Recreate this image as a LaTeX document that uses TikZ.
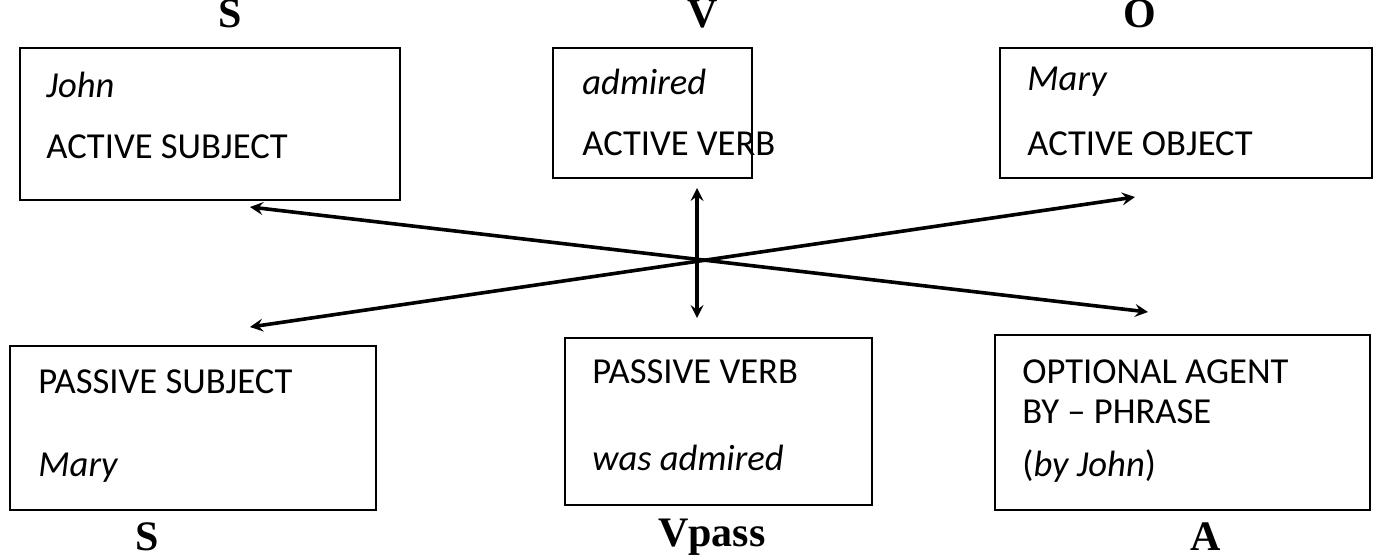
\documentclass[tikz,border=0pt]{standalone}
\usepackage{fontspec}
\setmainfont{Liberation Serif}
\newfontfamily\boxfont{Carlito}
\usetikzlibrary{positioning, arrows}
\tikzstyle{box}=[draw, line width=1.2pt]
\tikzstyle{txt}=[anchor=west, inner sep=0pt, font=\boxfont\fontsize{18.3}{22}\selectfont]
\tikzstyle{head}=[inner sep=0pt, font=\bfseries\fontsize{21}{24}\selectfont]
\tikzset{>=stealth}

\begin{document}
\begin{tikzpicture}[x=0.5pt, y=-0.5pt]
\useasboundingbox (0,0) rectangle (1395,559);
% the top boxes
\draw[box] (20,48) rectangle (400,200);
\draw[box] (553,48) rectangle (752,178);
\draw[box] (1000,48) rectangle (1372,178);
% the bottom boxes
\draw[box] (10,346) rectangle (376,510);
\draw[box] (565,338) rectangle (872,505);
\draw[box] (995,335) rectangle (1370,510);
% the texts
\node[txt] (john) at (46,85) {\itshape John};
\node[txt] (asub) at (46,147) {ACTIVE SUBJECT};
\node[txt] (adm) at (582,82) {\itshape admired};
\node[txt] (averb) at (582,144) {ACTIVE VERB};
\node[txt] (mary) at (1027,82) {\itshape Mary};
\node[txt] (aobj) at (1027,144) {ACTIVE OBJECT};
\node[txt] (psub) at (38,382) {PASSIVE SUBJECT};
\node[txt] (mary2) at (38,468) {\itshape Mary};
\node[txt] (pverb) at (592,372) {PASSIVE VERB};
\node[txt] (wadm) at (592,458) {\itshape was admired};
\node[txt] (opt) at (1022,372) {OPTIONAL AGENT};
\node[txt] (byp) at (1022,412) {BY – PHRASE};
\node[txt] (byj) at (1022,466) {(\textit{by John})};
% the headings
\node[head] (hs) at (230,14) {S};
\node[head] (hv) at (703,14) {V};
\node[head] (ho) at (1140,14) {O};
\node[head] (bs) at (147,537) {S};
\node[head] (bv) at (712,537) {Vpass};
\node[head] (ba) at (1206,537) {A};
% the arrows
\coordinate (p1) at (250,207);
\coordinate (p2) at (1148,312);
\coordinate (q1) at (1135,197);
\coordinate (q2) at (250,327);
\coordinate (v1) at (697,188);
\coordinate (v2) at (697,318);
\draw[<->, line width=1.8pt] (p1) -- (p2);
\draw[<->, line width=1.8pt] (q1) -- (q2);
\draw[<->, line width=1.8pt] (v1) -- (v2);
\end{tikzpicture}
\end{document}
